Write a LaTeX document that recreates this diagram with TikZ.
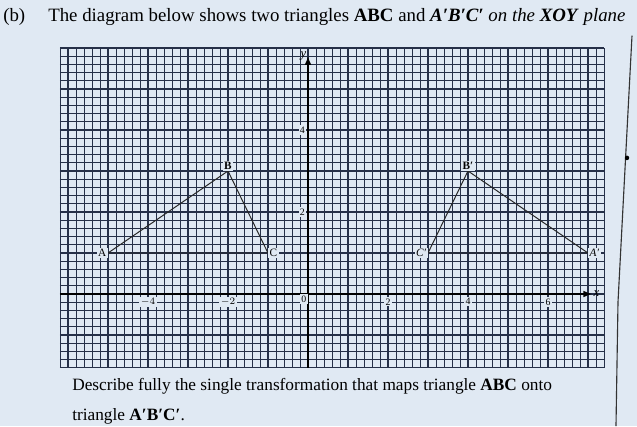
\documentclass[tikz,border=0pt]{standalone}
\usepackage{fontspec}
\setmainfont{Liberation Serif}
\definecolor{paper}{RGB}{224,233,243}
\definecolor{gridblue}{RGB}{38,48,72}

\begin{document}
\begin{tikzpicture}[
        x=1cm, y=1.025cm,
        gridfine/.style = {draw=gridblue, line width=0.6pt}, % Мелкая сетка
        gridunit/.style = {draw=gridblue, line width=0.9pt}, % Сетка через 1
        axis/.style = {draw=black, line width=1.1pt, -latex},
        side/.style = {draw=black!85, line width=0.7pt},
        vlabel/.style = {font=\fontsize{8}{9}\selectfont, inner sep=1pt, fill=paper},
        ticklabel/.style = {font=\fontsize{7}{8}\selectfont, inner sep=1pt, fill=paper},
        textline/.style = {anchor=west, inner sep=0pt},
    ]

    \path[use as bounding box, fill=paper] (-7.7,-3.22) rectangle (8.225,7.171);

    % Сетка
    \draw[gridfine, step=0.2] (-6.2,-1.8) grid (7.4,6.0);
    \draw[gridunit, step=1] (-6.2,-1.8) grid (7.4,6.0);

    % Оси
    \coordinate (xstart) at (-6.2,0);
    \coordinate (xend) at (7.1,0);
    \coordinate (ystart) at (0,-1.8);
    \coordinate (yend) at (0,5.8);
    \draw[axis] (xstart) -- (xend);
    \draw[axis] (ystart) -- (yend);
    \node[font=\itshape\small, inner sep=1pt, right] (xlab) at (xend) {x};
    \node[font=\itshape\small, inner sep=1pt, left] (ylab) at (yend) {y};

    \node[ticklabel, below left] (t0) at (0,0) {0};
    \node[ticklabel, below=2pt] (tm4) at (-4,0) {$-4$};
    \node[ticklabel, below=2pt] (tm2) at (-2,0) {$-2$};
    \node[ticklabel, below=2pt] (t2) at (2,0) {2};
    \node[ticklabel, below=2pt] (t4) at (4,0) {4};
    \node[ticklabel, below=2pt] (t6) at (6,0) {6};
    \node[ticklabel, left=1pt] (ty2) at (0,2) {2};
    \node[ticklabel, left=1pt] (ty4) at (0,4) {4};

    % Треугольники
    \coordinate (A) at (-5,1);
    \coordinate (B) at (-2,3);
    \coordinate (C) at (-1,1);
    \coordinate (A1) at (7,1);
    \coordinate (B1) at (4,3);
    \coordinate (C1) at (3,1);
    \draw[side] (A) -- (B) -- (C) -- cycle;
    \draw[side] (A1) -- (B1) -- (C1) -- cycle;

    \node[vlabel, anchor=east] (labA) at (A) {A};
    \node[vlabel, above] (labB) at (B) {\textbf{B}};
    \node[vlabel, anchor=west] (labC) at (C) {C};
    \node[vlabel, above] (labB1) at (B1) {\textbf{B′}};
    \node[vlabel, anchor=east] (labC1) at (C1) {\textit{C′}};
    \node[vlabel, anchor=west] (labA1) at (A1) {\textit{A′}};

    % Край листа
    \coordinate (edgetop) at (8.1,6.3);
    \coordinate (edgemid) at (7.75,-0.2);
    \coordinate (edgebot) at (7.7,-3.22);
    \draw[line width=0.8pt, black!80] (edgetop) -- (edgemid) -- (edgebot);
    \fill[black] (7.975,3.32) circle (1.6pt);

    % Текст
    \node[textline, font=\fontsize{13.4}{16}\selectfont] (part) at (-7.625,6.756) {(b)};
    \node[textline, font=\fontsize{13.4}{16}\selectfont] (head) at (-6.5,6.756)
        {The diagram below shows two triangles \textbf{ABC} and \textbf{\textit{A′B′C′}} \textit{on the} \textbf{\textit{XOY}} \textit{plane}};
    \node[textline, font=\fontsize{12.3}{14}\selectfont] (task) at (-5.9,-2.24)
        {Describe fully the single transformation that maps triangle \textbf{ABC} onto};
    \node[textline, font=\fontsize{12.3}{14}\selectfont] (task2) at (-5.9,-2.98)
        {triangle \textbf{A′B′C′}.};
\end{tikzpicture}
\end{document}
